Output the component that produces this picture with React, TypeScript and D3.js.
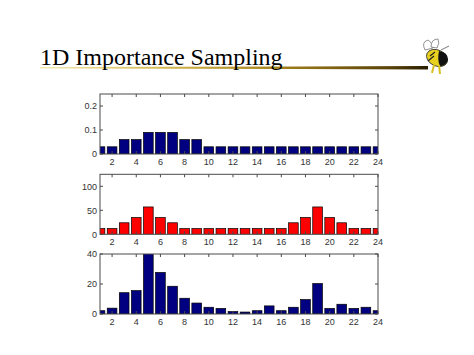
import React from "react";
import * as d3 from "d3";

const bins = [1, 2, 3, 4, 5, 6, 7, 8, 9, 10, 11, 12, 13, 14, 15, 16, 17, 18, 19, 20, 21, 22, 23, 24];
const topValues = [0.03, 0.03, 0.06, 0.06, 0.09, 0.09, 0.09, 0.06, 0.06, 0.03, 0.03, 0.03, 0.03, 0.03, 0.03, 0.03, 0.03, 0.03, 0.03, 0.03, 0.03, 0.03, 0.03, 0.03];
const midValues = [12, 12, 24, 35, 57, 35, 24, 12, 12, 12, 12, 12, 12, 12, 12, 12, 24, 35, 57, 35, 24, 12, 12, 12];
const bottomValues = [2.2, 3.9, 14.2, 15.6, 41, 27.7, 18.5, 10.5, 7.3, 4.5, 3.7, 1.6, 1.3, 2.2, 5.4, 2.2, 4.5, 9.6, 20.3, 3.7, 6.5, 3.7, 4.5, 2.2];
const xTickLabels = [2, 4, 6, 8, 10, 12, 14, 16, 18, 20, 22, 24];
const topYTicks = [0, 0.1, 0.2];
const midYTicks = [0, 50, 100];
const bottomYTicks = [0, 20, 40];
const titleText = "1D Importance Sampling";

const W = 474;
const H = 355;
const LEFT = 100;
const RIGHT = 378;

type PanelProps = {
  id: string;
  values: number[];
  yMax: number;
  yTicks: number[];
  top: number;
  bottom: number;
  fill: string;
};

function Panel({ id, values, yMax, yTicks, top, bottom, fill }: PanelProps) {
  const x = d3.scaleLinear().domain([1, 24]).range([LEFT, RIGHT]);
  const y = d3.scaleLinear().domain([0, yMax]).range([bottom, top]);
  const bw = (x(2) - x(1)) * 0.8;
  const tl = 3;
  const frame = "#4a4a4a";
  const fmt = (v: number) => (yMax < 1 ? (v === 0 ? "0" : d3.format(".1f")(v)) : String(v));
  return (
    <g>
      <defs>
        <clipPath id={`clip-${id}`}>
          <rect x={LEFT} y={top} width={RIGHT - LEFT} height={bottom - top} />
        </clipPath>
      </defs>
      <rect x={LEFT} y={top} width={RIGHT - LEFT} height={bottom - top} fill="#fff" />
      <g clipPath={`url(#clip-${id})`}>
        {bins.map((b, i) => (
          <rect
            key={b}
            x={x(b) - bw / 2}
            y={y(values[i])}
            width={bw}
            height={y(0) - y(values[i])}
            fill={fill}
            stroke="#000"
            strokeWidth={0.7}
          />
        ))}
      </g>
      <rect x={LEFT} y={top} width={RIGHT - LEFT} height={bottom - top} fill="none" stroke={frame} strokeWidth={1} />
      {xTickLabels.map((t) => (
        <g key={t}>
          <line x1={x(t)} x2={x(t)} y1={bottom} y2={bottom - tl} stroke={frame} />
          <line x1={x(t)} x2={x(t)} y1={top} y2={top + tl} stroke={frame} />
          <text x={x(t)} y={bottom + 11} textAnchor="middle" fontSize={9} fontFamily="Liberation Sans, Arial, sans-serif" fill="#333">
            {t}
          </text>
        </g>
      ))}
      {yTicks.map((t) => (
        <g key={t}>
          <line x1={LEFT} x2={LEFT + tl} y1={y(t)} y2={y(t)} stroke={frame} />
          <line x1={RIGHT} x2={RIGHT - tl} y1={y(t)} y2={y(t)} stroke={frame} />
          <text x={LEFT - 3} y={y(t) + 3.2} textAnchor="end" fontSize={9} fontFamily="Liberation Sans, Arial, sans-serif" fill="#333">
            {fmt(t)}
          </text>
        </g>
      ))}
    </g>
  );
}

function Bee() {
  return (
    <g transform="translate(437,58)">
      <path d="M-12,-8 q-4,-8 3,-10 q4,2 5,8 z" fill="#fff" stroke="#777" strokeWidth={0.8} />
      <path d="M-6,-11 q0,-8 7,-8 q2,4 -1,9 z" fill="#fff" stroke="#777" strokeWidth={0.8} />
      <line x1={4} y1={-8} x2={12} y2={-12} stroke="#555" strokeWidth={0.8} />
      <ellipse cx={0} cy={0} rx={11} ry={8} fill="#e8d020" stroke="#333" strokeWidth={0.8} transform="rotate(25)" />
      <path d="M2,-7 q9,1 9,9 q-2,6 -8,6 q-3,-6 -1,-15 z" fill="#111" />
      <path d="M-7,-2 l5,-4 M-9,3 l6,-5" stroke="#222" strokeWidth={1.2} />
      <path d="M-3,7 l-2,8 M2,7 l1,9" stroke="#d8c020" strokeWidth={2} />
    </g>
  );
}

export default function App() {
  return (
    <svg width={W} height={H} style={{ position: "absolute", left: 0, top: 0, background: "#fff" }}>
      <defs>
        <linearGradient id="rule" x1="0" x2="1" y1="0" y2="0">
          <stop offset="0" stopColor="#f4eab8" />
          <stop offset="0.3" stopColor="#d8bc58" />
          <stop offset="0.6" stopColor="#a8841c" />
          <stop offset="0.9" stopColor="#5a4208" />
          <stop offset="1" stopColor="#2a1e00" />
        </linearGradient>
      </defs>
      <rect width={W} height={H} fill="#fff" />
      <path d="M40,67 L300,66.5 L428,66 L428,69.5 L300,69 L40,68.5 Z" fill="url(#rule)" />
      <text x={40} y={65} fontFamily="Liberation Serif, Times New Roman, serif" fontSize={24} fill="#000">
        {titleText}
      </text>
      <Bee />
      <Panel id="top" values={topValues} yMax={0.25} yTicks={topYTicks} top={94} bottom={154} fill="#000080" />
      <Panel id="mid" values={midValues} yMax={125} yTicks={midYTicks} top={174.3} bottom={234.3} fill="#ff0000" />
      <Panel id="bot" values={bottomValues} yMax={40} yTicks={bottomYTicks} top={254} bottom={314} fill="#000080" />
    </svg>
  );
}
